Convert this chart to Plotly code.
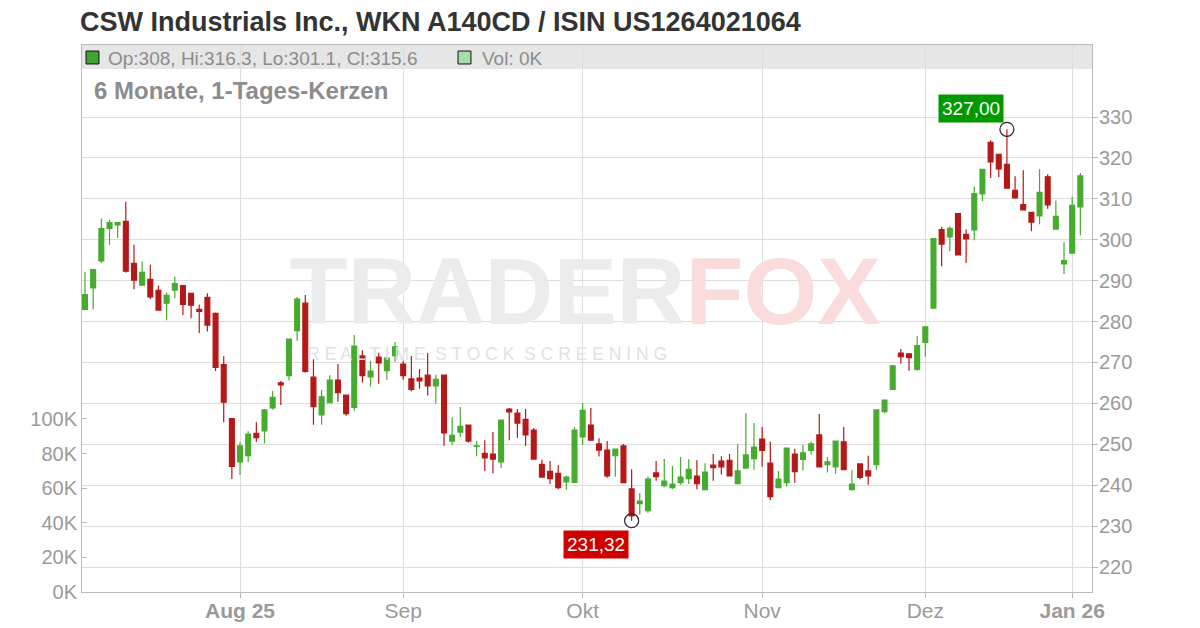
import plotly.graph_objects as go

# ---- data ----
opens = [283.0, 288.2, 294.8, 302.8, 303.6, 304.5, 294.2, 288.9, 290.3, 287.6,
         284.5, 287.7, 288.8, 286.9, 283.0, 285.9, 282.0, 269.5, 256.3, 245.7,
         247.2, 252.7, 253.3, 258.9, 265.0, 266.8, 277.8, 284.5, 266.4, 257.2,
         260.2, 265.7, 262.0, 259.0, 271.6, 266.5, 271.3, 268.0, 271.7, 269.6,
         266.0, 266.2, 266.9, 264.3, 266.9, 250.8, 253.0, 254.7, 249.5, 247.8,
         247.6, 245.7, 258.6, 257.6, 256.1, 253.5, 245.1, 243.4, 242.9, 240.8,
         240.7, 251.8, 254.7, 250.1, 248.6, 247.2, 249.6, 239.1, 235.5, 233.8,
         243.0, 239.9, 239.4, 240.6, 241.6, 242.2, 238.9, 244.9, 245.9, 246.1,
         240.4, 244.2, 246.5, 251.3, 245.4, 239.4, 240.6, 247.6, 246.3, 248.5,
         252.3, 245.0, 244.5, 250.6, 238.9, 245.2, 243.5, 245.0, 258.0, 263.4,
         272.3, 272.1, 268.3, 274.9, 283.3, 302.5, 300.7, 306.4, 301.3, 302.4,
         311.2, 323.8, 320.9, 318.4, 312.1, 308.6, 306.7, 305.8, 315.4, 302.6,
         294.1, 296.7, 308.0]
highs = [292.2, 292.8, 305.2, 304.9, 304.3, 309.3, 298.8, 294.7, 293.9, 288.8,
         287.1, 291.0, 288.9, 287.0, 284.2, 286.9, 282.2, 271.5, 256.4, 250.5,
         253.2, 255.4, 258.6, 263.0, 265.5, 275.7, 286.0, 286.5, 270.8, 263.3,
         266.9, 269.6, 262.0, 276.7, 273.0, 270.4, 272.4, 271.3, 275.0, 270.4,
         271.6, 268.4, 272.3, 267.0, 266.9, 256.6, 259.1, 254.7, 250.8, 251.0,
         253.0, 255.9, 258.9, 258.6, 258.6, 254.0, 246.2, 245.9, 244.9, 242.4,
         254.2, 260.1, 258.9, 251.5, 250.8, 248.8, 250.1, 243.9, 238.1, 242.2,
         245.9, 246.4, 244.7, 246.9, 246.4, 246.1, 245.4, 247.6, 247.1, 247.6,
         250.1, 257.6, 255.2, 254.2, 250.6, 243.5, 249.1, 248.9, 249.8, 250.6,
         257.4, 246.9, 250.8, 254.2, 243.7, 245.2, 247.2, 258.4, 260.8, 269.4,
         273.3, 272.3, 276.5, 278.7, 300.3, 303.2, 303.3, 306.4, 302.5, 313.0,
         317.2, 324.3, 320.9, 327.0, 315.5, 317.0, 306.7, 317.2, 316.0, 309.6,
         299.4, 310.5, 316.3]
lows = [283.0, 283.0, 294.3, 298.7, 300.4, 292.0, 287.9, 288.9, 285.5, 282.8,
        280.3, 285.7, 281.6, 280.8, 277.2, 277.6, 267.9, 255.4, 241.5, 242.5,
        245.7, 250.6, 250.2, 258.5, 259.6, 265.6, 275.3, 267.5, 254.8, 254.8,
        260.2, 260.4, 257.0, 258.2, 265.1, 264.1, 264.8, 265.8, 270.2, 265.8,
        262.9, 263.6, 261.9, 260.0, 249.6, 249.9, 251.8, 250.4, 247.1, 243.5,
        242.9, 244.2, 251.0, 251.6, 249.6, 246.2, 242.0, 240.3, 239.0, 238.9,
        240.7, 249.8, 251.0, 247.0, 241.8, 242.1, 240.6, 231.32, 232.8, 233.3,
        241.1, 239.5, 239.0, 240.1, 240.3, 239.0, 238.9, 241.1, 242.6, 242.3,
        240.4, 244.1, 243.8, 244.5, 236.4, 239.2, 239.7, 240.6, 243.6, 247.5,
        244.5, 243.1, 242.8, 243.8, 238.7, 241.4, 240.1, 243.8, 257.5, 263.3,
        269.7, 268.0, 268.0, 271.4, 283.3, 293.5, 297.2, 296.3, 294.3, 299.9,
        309.5, 315.1, 315.3, 312.6, 310.2, 307.3, 302.1, 303.8, 307.6, 302.6,
        291.6, 296.7, 301.1]
closes = [286.6, 292.7, 302.7, 304.2, 304.2, 292.3, 290.1, 292.0, 286.0, 282.8,
          286.4, 289.3, 284.2, 284.0, 282.5, 279.1, 268.8, 260.3, 244.6, 249.6,
          252.5, 251.6, 258.4, 261.5, 264.5, 275.7, 285.5, 267.8, 259.2, 261.6,
          265.7, 262.6, 257.5, 274.0, 266.8, 267.9, 269.9, 271.1, 273.8, 266.8,
          263.4, 265.5, 264.3, 265.9, 252.8, 252.2, 254.4, 250.8, 249.6, 246.7,
          246.4, 255.9, 257.9, 255.2, 252.3, 246.4, 242.0, 241.6, 239.4, 242.0,
          253.5, 258.3, 251.0, 248.6, 242.3, 248.8, 240.6, 232.5, 236.1, 241.5,
          242.1, 241.0, 240.3, 242.0, 243.9, 240.4, 243.2, 244.3, 244.5, 242.3,
          243.5, 247.4, 249.3, 248.5, 237.2, 241.5, 249.1, 243.3, 247.9, 250.1,
          244.5, 245.7, 250.8, 243.8, 240.3, 241.9, 242.3, 258.4, 260.8, 269.2,
          271.4, 271.2, 274.1, 278.7, 300.3, 298.9, 302.8, 296.3, 300.2, 311.3,
          317.2, 319.0, 317.3, 312.6, 310.2, 307.3, 304.3, 311.6, 308.5, 305.7,
          294.9, 308.4, 315.6]
last_volume = 0  # "Vol: 0K"

month_start_idx = [19, 39, 61, 83, 103, 121]
month_labels = ["<b>Aug 25</b>", "Sep", "Okt", "Nov", "Dez", "<b>Jan 26</b>"]
price_ticks = [220, 230, 240, 250, 260, 270, 280, 290, 300, 310, 320, 330]
vol_ticks = [0, 20000, 40000, 60000, 80000, 100000]
vol_labels = ["0K", "20K", "40K", "60K", "80K", "100K"]

title = "CSW Industrials Inc., WKN A140CD / ISIN US1264021064"
subtitle = "6 Monate, 1-Tages-Kerzen"

# ---- styles ----
FONT = "Liberation Sans, Arial, sans-serif"
GREEN = "#46ab2f"
RED = "#b51818"
GRID = "#dddddd"
AXIS = "#bbbbbb"
LABEL = "#9a9a9a"

idx = list(range(len(opens)))
hi_i = max(idx, key=lambda i: highs[i])
lo_i = min(idx, key=lambda i: lows[i])

fig = go.Figure()

# volume axis carrier (volume is 0)
fig.add_trace(go.Scatter(x=[idx[-1]], y=[last_volume], yaxis="y", mode="markers",
                         marker=dict(opacity=0), hoverinfo="skip", showlegend=False))

# watermark (behind candles)
fig.add_trace(go.Scatter(
    x=[61.3], y=[285.3], yaxis="y2", mode="text",
    text=["<b>TRADER<span style='color:#fbdcdc'>FOX</span></b>"],
    textfont=dict(family=FONT, size=95, color="#ececec"),
    hoverinfo="skip", showlegend=False))
fig.add_trace(go.Scatter(
    x=[49.3], y=[271.6], yaxis="y2", mode="text",
    text=["R E A L T I M E  S T O C K  S C R E E N I N G"],
    textfont=dict(family=FONT, size=17.5, color="#e2e2e2"),
    hoverinfo="skip", showlegend=False))

fig.add_trace(go.Candlestick(
    x=idx, open=opens, high=highs, low=lows, close=closes, yaxis="y2",
    increasing=dict(line=dict(color=GREEN, width=1.2), fillcolor=GREEN),
    decreasing=dict(line=dict(color=RED, width=1.2), fillcolor=RED),
    whiskerwidth=0, showlegend=False, hoverinfo="skip"))

# high / low markers
fig.add_trace(go.Scatter(
    x=[hi_i, lo_i], y=[highs[hi_i], lows[lo_i]], yaxis="y2", mode="markers",
    marker=dict(symbol="circle-open", size=14, color="#222222", line=dict(width=1.2)),
    hoverinfo="skip", showlegend=False))

def fmt(v):
    return f"{v:.2f}".replace(".", ",")

annotations = [
    dict(x=hi_i, y=highs[hi_i], xref="x", yref="y2", text=fmt(highs[hi_i]),
         showarrow=False, xanchor="right", yanchor="bottom", xshift=-3, yshift=6,
         bgcolor="#009a00", font=dict(family=FONT, size=19, color="white"), borderpad=3),
    dict(x=lo_i, y=lows[lo_i], xref="x", yref="y2", text=fmt(lows[lo_i]),
         showarrow=False, xanchor="right", yanchor="top", xshift=-3, yshift=-9,
         bgcolor="#d00000", font=dict(family=FONT, size=19, color="white"), borderpad=3),
    dict(x=0.0238, y=0.976, xref="paper", yref="paper", xanchor="left", yanchor="middle",
         text=f"Op:{opens[-1]:g}, Hi:{highs[-1]:g}, Lo:{lows[-1]:g}, Cl:{closes[-1]:g}",
         showarrow=False, font=dict(family=FONT, size=19, color="#8c8c8c")),
    dict(x=0.394, y=0.976, xref="paper", yref="paper", xanchor="left", yanchor="middle",
         text=f"Vol: {last_volume // 1000}K", showarrow=False,
         font=dict(family=FONT, size=19, color="#8c8c8c")),
    dict(x=0.0099, y=0.9177, xref="paper", yref="paper", xanchor="left", yanchor="middle",
         text=f"<b>{subtitle}</b>", showarrow=False, font=dict(family=FONT, size=24, color="#8c8c8c")),
]

shapes = [
    dict(type="rect", xref="paper", yref="paper", x0=0, x1=1, y0=0.956, y1=1,
         fillcolor="#e6e6e6", line=dict(width=0), layer="below"),
    dict(type="rect", xref="paper", yref="paper", x0=0.004, x1=0.0168, y0=0.9653, y1=0.989,
         fillcolor="#3ea52e", line=dict(color="#111111", width=1)),
    dict(type="rect", xref="paper", yref="paper", x0=0.3723, x1=0.3851, y0=0.9653, y1=0.989,
         fillcolor="#a8dca8", line=dict(color="#111111", width=1)),
]

fig.update_layout(
    width=1200, height=628,
    margin=dict(l=82, r=108, t=45, b=36, autoexpand=False),
    paper_bgcolor="white", plot_bgcolor="white",
    boxgap=0.15,
    title=dict(text=f"<b>{title}</b>", x=80 / 1200, xanchor="left", xref="container",
               y=1 - 22 / 628, yanchor="middle", yref="container",
               font=dict(family=FONT, size=27, color="#333333")),
    font=dict(family=FONT),
    showlegend=False,
    xaxis=dict(range=[-0.37, 123.43], tickmode="array", tickvals=month_start_idx,
               ticktext=month_labels, showgrid=True, gridcolor=GRID, gridwidth=1,
               showline=True, linecolor=AXIS, linewidth=1, mirror=True,
               ticks="outside", ticklen=5, tickcolor=AXIS, zeroline=False,
               ticklabelstandoff=-5,
               tickfont=dict(family=FONT, size=21, color=LABEL), automargin=False,
               rangeslider=dict(visible=False), fixedrange=True),
    yaxis=dict(range=[0, 316000], tickmode="array", tickvals=vol_ticks, ticktext=vol_labels,
               showgrid=False, zeroline=False, showline=True, linecolor=AXIS, linewidth=1,
               ticks="inside", ticklen=5, tickcolor=AXIS, side="left", automargin=False,
               fixedrange=True,
               tickfont=dict(family=FONT, size=20, color=LABEL)),
    yaxis2=dict(range=[213.9, 347.6], tickmode="array", tickvals=price_ticks,
                overlaying="y", side="right", showgrid=True, gridcolor=GRID, gridwidth=1,
                zeroline=False, showline=True, linecolor=AXIS, linewidth=1,
                ticks="outside", ticklen=5, tickcolor=AXIS, automargin=False,
                ticklabelstandoff=-3, fixedrange=True,
                tickfont=dict(family=FONT, size=20, color=LABEL)),
    annotations=annotations,
    shapes=shapes,
)

fig.write_html("out.html", config={"displayModeBar": False},
               post_script="document.body.style.margin='0';")
